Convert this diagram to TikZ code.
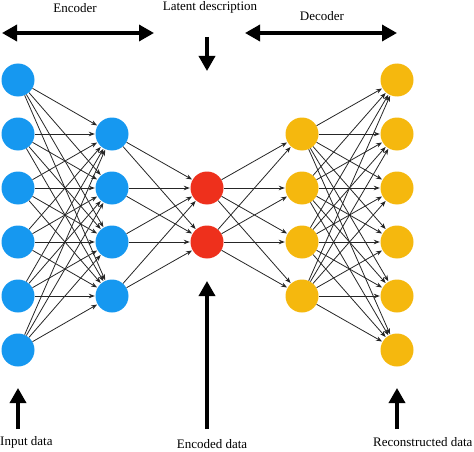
\documentclass[tikz,border=0pt]{standalone}
\usepackage{fontspec}
\setmainfont{Liberation Serif}
\usetikzlibrary{arrows.meta}

\definecolor{encblue}{RGB}{22,152,240}
\definecolor{latred}{RGB}{238,48,28}
\definecolor{decyellow}{RGB}{245,184,14}

\tikzset{
  neuron/.style={circle, minimum size=33pt, inner sep=0pt},
  link/.style={-{Stealth[length=6pt,width=4.5pt]}, line width=0.8pt, black!85, shorten >=0.5pt},
  bigarrow/.style={line width=3.4pt, -{Triangle[length=15pt,width=16pt]}},
  twoway/.style={line width=3.4pt, {Triangle[length=15pt,width=16pt]}-{Triangle[length=15pt,width=16pt]}},
  caption/.style={font=\fontsize{13}{15}\selectfont, inner sep=0pt}
}

\begin{document}
\begin{tikzpicture}[x=1pt,y=-1pt]
	 		\useasboundingbox (0,0) rectangle (474,452);
	 		% layers
	 		\foreach \i in {1,...,6} {
	 			\node[neuron, fill=encblue] (in\i) at (18,{80+54*(\i-1)}) {};
	 			\node[neuron, fill=decyellow] (out\i) at (397,{80+54*(\i-1)}) {};
	 		}
	 		\foreach \j in {1,...,4} {
	 			\node[neuron, fill=encblue] (hid\j) at (112,{134+54*(\j-1)}) {};
	 			\node[neuron, fill=decyellow] (dec\j) at (302,{134+54*(\j-1)}) {};
	 		}
	 		\node[neuron, fill=latred] (lat1) at (207,188) {};
	 		\node[neuron, fill=latred] (lat2) at (207,242) {};
	 		% connections
	 		\foreach \i in {1,...,6}
	 			\foreach \j in {1,...,4} {
	 				\draw[link] (in\i) -- (hid\j);
	 				\draw[link] (dec\j) -- (out\i);
	 			}
	 		\foreach \j in {1,...,4}
	 			\foreach \k in {1,2} {
	 				\draw[link] (hid\j) -- (lat\k);
	 				\draw[link] (lat\k) -- (dec\j);
	 			}
	 		% headings
	 		\node[caption] (enclabel) at (75,8) {Encoder};
	 		\node[caption] (latlabel) at (210,7) {Latent description};
	 		\node[caption] (declabel) at (322,16) {Decoder};
	 		\coordinate (encL) at (2,33);
	 		\coordinate (encR) at (154,33);
	 		\coordinate (decL) at (245,33);
	 		\coordinate (decR) at (397,33);
	 		\coordinate (latTop) at (207,37);
	 		\coordinate (latTip) at (207,71);
	 		\draw[twoway] (encL) -- (encR);
	 		\draw[twoway] (decL) -- (decR);
	 		\draw[bigarrow] (latTop) -- (latTip);
	 		% bottom labels
	 		\coordinate (inBase) at (18,429);
	 		\coordinate (inTip) at (18,388);
	 		\coordinate (codeBase) at (207,429);
	 		\coordinate (codeTip) at (207,281);
	 		\coordinate (outBase) at (397,429);
	 		\coordinate (outTip) at (397,388);
	 		\draw[bigarrow] (inBase) -- (inTip);
	 		\draw[bigarrow] (codeBase) -- (codeTip);
	 		\draw[bigarrow] (outBase) -- (outTip);
	 		\node[caption, anchor=west] (inlabel) at (0,442) {Input data};
	 		\node[caption] (codelabel) at (212,444) {Encoded data};
	 		\node[caption, anchor=west] (outlabel) at (373,442) {Reconstructed data};
	 	\end{tikzpicture}
\end{document}
